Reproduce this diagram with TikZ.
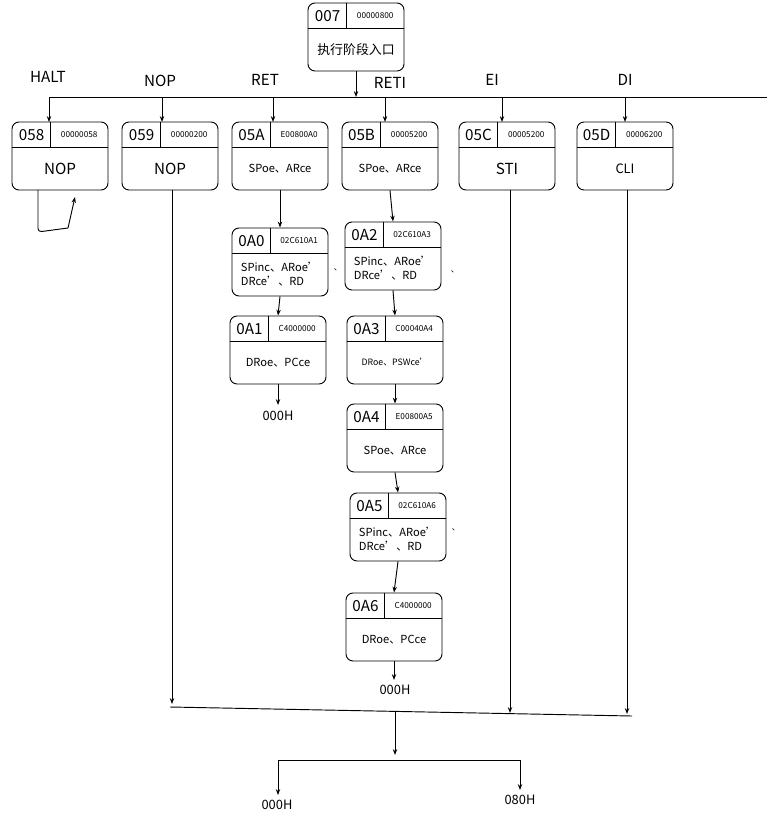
\documentclass[tikz,border=0pt]{standalone}
\usepackage{fontspec}
\setmainfont{Noto Sans CJK SC}
\usetikzlibrary{arrows.meta,positioning}
\tikzset{
  cell/.style = {draw, thick, rounded corners=6pt, minimum width=2.88cm, minimum height=2.04cm, inner sep=0pt},
  addr/.style = {font=\fontsize{13}{13}\selectfont, inner sep=1pt},
  code/.style = {font=\fontsize{7}{7}\selectfont, inner sep=0pt},
  body/.style = {font=\fontsize{9.5}{12}\selectfont, align=left, inner sep=0pt},
  big/.style = {font=\fontsize{13}{13}\selectfont, inner sep=0pt},
  line/.style = {draw, thick},
  arr/.style = {draw, thick, -{Stealth[length=5pt]}},
}
% name, x, y (centre, px), address, code, body
\newcommand\mcell[6]{%
  \node[cell] (#1) at (#2,#3) {};
  \draw[thick] ([yshift=-0.78cm]#1.north west) -- ([yshift=-0.78cm]#1.north east);
  \draw[thick] ([xshift=1.17cm]#1.north west) -- ([xshift=1.17cm,yshift=-0.78cm]#1.north west);
  \node[addr] at ([xshift=0.6cm,yshift=-0.4cm]#1.north west) {#4};
  \node[code] at ([xshift=2.03cm,yshift=-0.39cm]#1.north west) {#5};
  \node[body] at ([yshift=-1.41cm]#1.north) {#6};
}
\begin{document}
\begin{tikzpicture}[x=0.03cm,y=-0.03cm]
\useasboundingbox (0,0) rectangle (767,825);

\mcell{c007}{356}{37}{007}{00000800}{\fontsize{11}{11}\selectfont 执行阶段入口}
\mcell{c058}{60}{156}{058}{00000058}{\fontsize{13}{13}\selectfont NOP}
\mcell{c059}{170}{156}{059}{00000200}{\fontsize{13}{13}\selectfont NOP}
\mcell{c05A}{280}{156}{05A}{E00800A0}{SPoe、ARce}
\mcell{c05B}{390}{156}{05B}{00005200}{SPoe、ARce}
\mcell{c05C}{507}{156}{05C}{00005200}{\fontsize{13}{13}\selectfont STI}
\mcell{c05D}{625}{156}{05D}{00006200}{\fontsize{11}{11}\selectfont CLI}
\mcell{c0A0}{280}{262}{0A0}{02C610A1}{SPinc、ARoe’\\DRce’、RD}
\mcell{c0A2}{393}{256}{0A2}{02C610A3}{SPinc、ARoe’\\DRce’、RD}
\mcell{c0A1}{278}{350}{0A1}{C4000000}{DRoe、PCce}
\mcell{c0A3}{395}{350}{0A3}{C00040A4}{\fontsize{7.5}{8}\selectfont DRoe、PSWce’}
\mcell{c0A4}{395}{438}{0A4}{E00800A5}{SPoe、ARce}
\mcell{c0A5}{398}{527}{0A5}{02C610A6}{SPinc、ARoe’\\DRce’、RD}
\mcell{c0A6}{394}{627}{0A6}{C4000000}{DRoe、PCce}

% bus labels
\node[big] (lHALT) at (48,77) {HALT};
\node[big] (lNOP) at (160,81) {NOP};
\node[big] (lRET) at (265,80) {RET};
\node[big] (lRETI) at (390,83) {RETI};
\node[big] (lEI) at (492,80) {EI};
\node[big] (lDI) at (625,80) {DI};

% bus
\coordinate (busL) at (49,97);
\coordinate (busR) at (767,97);
\path[line] (busL) -- (busR);
\path[arr] (c007.south) -- (c007.south |- busL);
\foreach \n/\x in {c058/49,c059/162,c05A/273,c05B/385,c05C/502,c05D/625}
  \path[arr] (\x,97) -- (\x,122);

% HALT loop
\coordinate (h1) at (38,232);
\coordinate (h2) at (68,228);
\coordinate (h3) at (75,197);
\draw[thick, rounded corners=3pt] (38,190) -- (h1) -- (h2);
\path[arr] (h2) -- (h3);

% RET chain
\path[arr] (c05A.south) -- (c0A0.north);
\path[arr] (c0A0.south) -- (c0A1.north);
\coordinate (r0) at (278,405);
\path[arr] (c0A1.south) -- (r0);
\node[big, font=\fontsize{11}{11}\selectfont] (h000a) at (278,416) {000H};

% RETI chain
\path[arr] (c05B.south) -- (c0A2.north);
\path[arr] (c0A2.south) -- (c0A3.north);
\path[arr] (c0A3.south) -- (c0A4.north);
\path[arr] (c0A4.south) -- (c0A5.north);
\path[arr] (c0A5.south) -- (c0A6.north);
\coordinate (r1) at (394,680);
\path[arr] (c0A6.south) -- (r1);
\node[big, font=\fontsize{11}{11}\selectfont] (h000b) at (395,690) {000H};

% stray marks
\node[code] (m1) at (338,270) {、};
\node[code] (m2) at (455,272) {、};
\node[code] (m3) at (456,530) {、};

% merge
\coordinate (mL) at (170,707);
\coordinate (mR) at (632,716);
\path[line] (mL) -- (mR);
\path[arr] (172,190) -- (172,704);
\path[arr] (510,190) -- (510,713);
\path[arr] (627,190) -- (627,714);
\coordinate (mC) at (395,712);
\coordinate (mD) at (395,755);
\path[arr] (mC) -- (mD);
\coordinate (fL) at (278,760);
\coordinate (fR) at (520,760);
\path[line] (fL) -- (fR);
\path[arr] (fL) -- (278,795);
\path[arr] (fR) -- (520,790);
\node[big, font=\fontsize{11}{11}\selectfont] (h000c) at (277,805) {000H};
\node[big, font=\fontsize{11}{11}\selectfont] (h080) at (520,800) {080H};
\end{tikzpicture}
\end{document}
